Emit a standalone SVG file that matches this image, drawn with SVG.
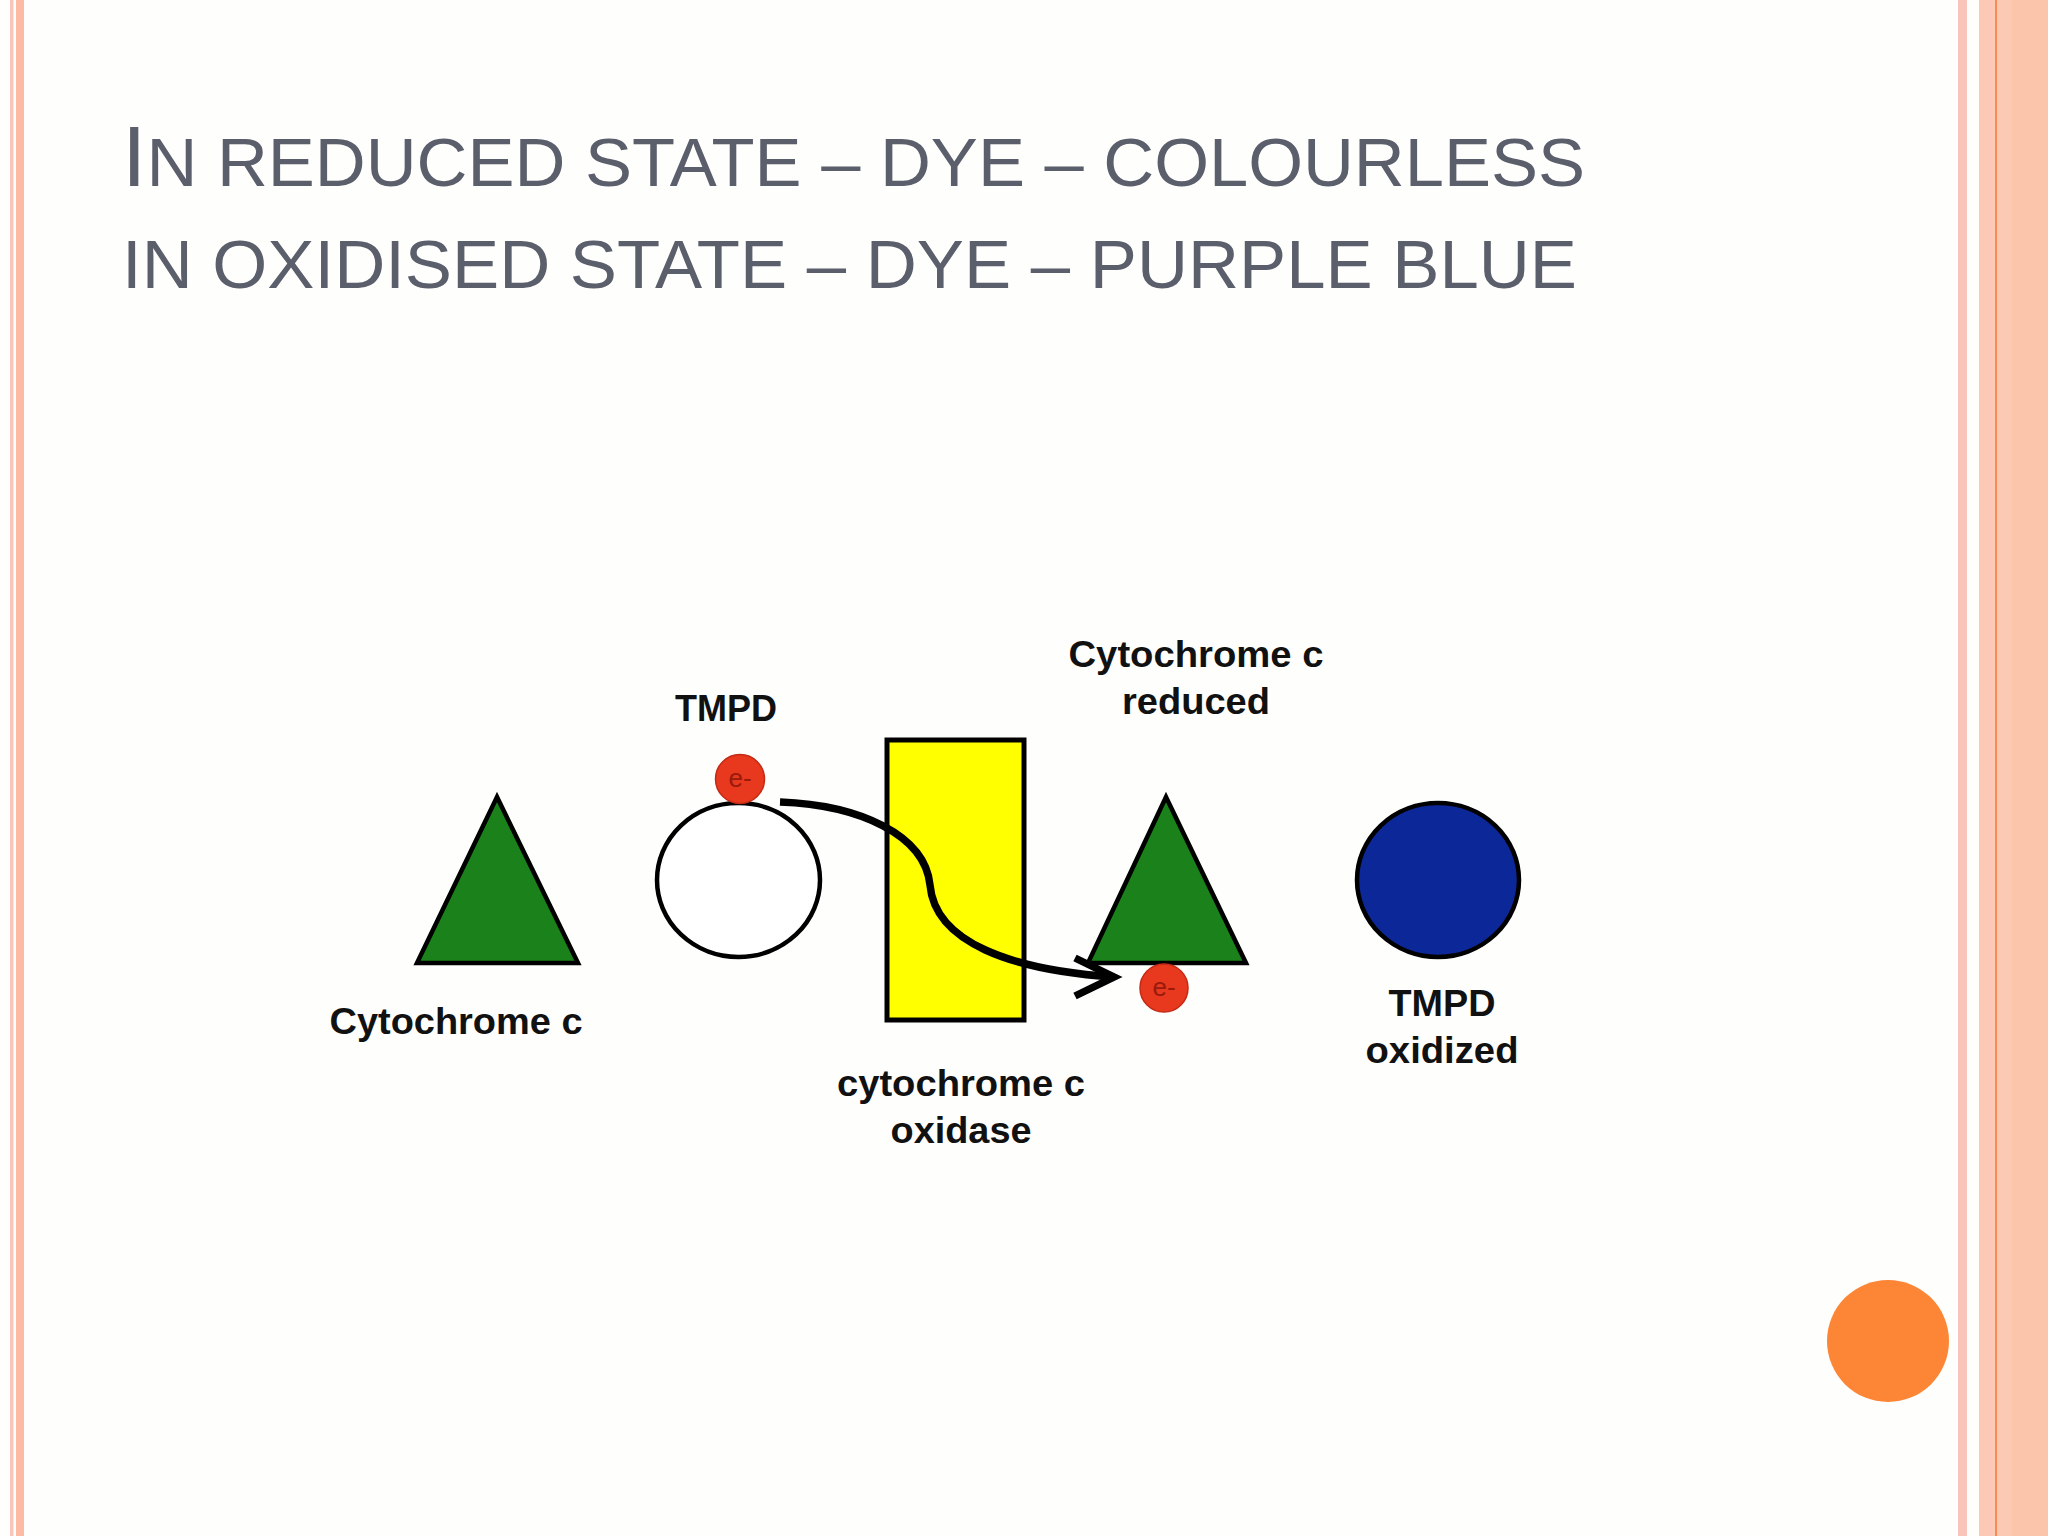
<svg xmlns="http://www.w3.org/2000/svg" width="2048" height="1536" viewBox="0 0 2048 1536">
<defs>
<style>
.title{font-family:"Liberation Sans",Arial,sans-serif;fill:#5b5e6b;}
.lbl{font-family:"Liberation Sans",Arial,sans-serif;font-weight:bold;font-size:37px;fill:#111;text-anchor:middle;}
.tri{fill:#1b821b;stroke:#000;stroke-width:4.5;stroke-linejoin:miter;}
.el{fill:#e8381e;stroke:#c42a14;stroke-width:1.5;}
.etxt{font-family:"Liberation Sans",Arial,sans-serif;font-size:26px;fill:#9a1a0c;text-anchor:middle;}
.wire{fill:none;stroke:#000;stroke-width:7.5;}
</style>
</defs>
<rect x="0" y="0" width="2048" height="1536" fill="#fefefd"/>
<g id="frame">
<rect x="10" y="0" width="3.5" height="1536" fill="#f8c6bc"/>
<rect x="16" y="0" width="8" height="1536" fill="#fdbba3"/>
<rect x="1958" y="0" width="9" height="1536" fill="#f9c5bb"/>
<rect x="1979" y="0" width="16" height="1536" fill="#fcc9b6"/>
<rect x="1995" y="0" width="2.5" height="1536" fill="#f58d55"/>
<rect x="1997.5" y="0" width="15" height="1536" fill="#fcc9b4"/>
<rect x="2012" y="0" width="36" height="1536" fill="#fbc5ac"/>
<circle cx="1888" cy="1341" r="61" fill="#fd8536"/>
</g>
<g id="title">
<text class="title" x="122" y="186" textLength="1463" lengthAdjust="spacingAndGlyphs"><tspan font-size="86">I</tspan><tspan font-size="69">N REDUCED STATE – DYE – COLOURLESS</tspan></text>
<text class="title" x="122" y="288" font-size="69" textLength="1455" lengthAdjust="spacingAndGlyphs">IN OXIDISED STATE – DYE – PURPLE BLUE</text>
</g>
<g id="cytc">
<polygon class="tri" points="497,797 417,963 578,963"/>
<text class="lbl" x="456" y="1034" textLength="253" lengthAdjust="spacingAndGlyphs">Cytochrome c</text>
</g>
<g id="tmpd-reduced">
<ellipse cx="738.5" cy="880" rx="81.5" ry="77" fill="#fff" stroke="#000" stroke-width="4.5"/>
<text class="lbl" x="726" y="721" textLength="102" lengthAdjust="spacingAndGlyphs">TMPD</text>
</g>
<g id="electron1">
<circle class="el" cx="740" cy="779" r="24.5"/>
<text class="etxt" x="740" y="787">e-</text>
</g>
<g id="oxidase">
<rect x="887" y="740" width="137" height="280" fill="#ffff00" stroke="#000" stroke-width="5"/>
<text class="lbl" x="961" y="1096" textLength="248" lengthAdjust="spacingAndGlyphs">cytochrome c</text>
<text class="lbl" x="961" y="1143" textLength="141" lengthAdjust="spacingAndGlyphs">oxidase</text>
</g>
<g id="cytc-reduced">
<polygon class="tri" points="1166,797 1088,963 1246,963"/>
<text class="lbl" x="1196" y="667" textLength="255" lengthAdjust="spacingAndGlyphs">Cytochrome c</text>
<text class="lbl" x="1196" y="714" textLength="148" lengthAdjust="spacingAndGlyphs">reduced</text>
</g>
<g id="electron2">
<circle class="el" cx="1164" cy="988" r="24"/>
<text class="etxt" x="1164" y="996">e-</text>
</g>
<g id="tmpd-oxidized">
<ellipse cx="1438" cy="880" rx="81" ry="77" fill="#0c2898" stroke="#000" stroke-width="4.5"/>
<text class="lbl" x="1442" y="1016" textLength="107" lengthAdjust="spacingAndGlyphs">TMPD</text>
<text class="lbl" x="1442" y="1063" textLength="153" lengthAdjust="spacingAndGlyphs">oxidized</text>
</g>
<g id="connectors">
<path class="wire" d="M780,802 C860,805 925,835 930,885 C935,942 1010,970 1114,977"/>
<path class="wire" d="M1075,958 L1114,977 L1075,996" stroke-linejoin="miter"/>
</g>
</svg>
